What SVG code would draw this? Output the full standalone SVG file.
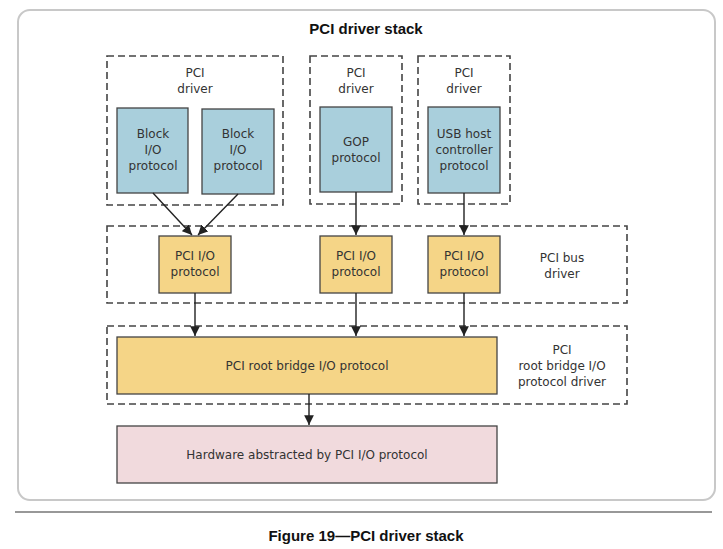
<svg xmlns="http://www.w3.org/2000/svg" width="723" height="549" viewBox="0 0 723 549">
<defs>
<marker id="ah" viewBox="0 0 10 10" refX="10" refY="5" markerWidth="7" markerHeight="7" orient="auto"><path d="M0,0L10,5L0,10z" fill="#222"/></marker>
<style>
text{font-family:"DejaVu Sans","Noto Sans",sans-serif;font-size:12px;fill:#333;text-anchor:middle}
.d{fill:none;stroke:#444;stroke-width:1.6;stroke-dasharray:7,4}
.b{fill:#a9cfdc;stroke:#444;stroke-width:1.3}
.o{fill:#f5d587;stroke:#444;stroke-width:1.3}
.p{fill:#f1dadd;stroke:#444;stroke-width:1.3}
.c line{stroke:#222;stroke-width:1.4;marker-end:url(#ah)}
</style>
</defs>
<rect width="723" height="549" fill="#fff"/>
<rect x="18" y="10" width="697" height="490" rx="12" fill="#fff" stroke="#c8c8c8" stroke-width="2"/>
<text x="366" y="34" style="font-family:'Liberation Sans',sans-serif;font-size:15px;font-weight:bold;fill:#111">PCI driver stack</text>
<g id="drv1"><rect class="d" x="107" y="56" width="176" height="149"/><text x="195" y="77">PCI</text><text x="195" y="93">driver</text></g>
<g id="blk1"><rect class="b" x="117" y="108" width="71" height="85"/><text x="153" y="138">Block</text><text x="153" y="154">I/O</text><text x="153" y="170">protocol</text></g>
<g id="blk2"><rect class="b" x="202" y="109" width="72" height="85"/><text x="238" y="138">Block</text><text x="238" y="154">I/O</text><text x="238" y="170">protocol</text></g>
<g id="drv2"><rect class="d" x="310" y="56" width="92" height="148"/><text x="356" y="77">PCI</text><text x="356" y="93">driver</text></g>
<g id="gop"><rect class="b" x="320" y="107" width="72" height="85"/><text x="356" y="146">GOP</text><text x="356" y="162">protocol</text></g>
<g id="drv3"><rect class="d" x="418" y="56" width="92" height="148"/><text x="464" y="77">PCI</text><text x="464" y="93">driver</text></g>
<g id="usb"><rect class="b" x="428" y="107" width="72" height="86"/><text x="464" y="138">USB host</text><text x="464" y="154">controller</text><text x="464" y="170">protocol</text></g>
<g id="bus"><rect class="d" x="107" y="226" width="520" height="77"/><text x="562" y="262">PCI bus</text><text x="562" y="278">driver</text></g>
<g id="pio1"><rect class="o" x="159" y="236" width="72" height="57"/><text x="195" y="260">PCI I/O</text><text x="195" y="276">protocol</text></g>
<g id="pio2"><rect class="o" x="320" y="236" width="72" height="57"/><text x="356" y="260">PCI I/O</text><text x="356" y="276">protocol</text></g>
<g id="pio3"><rect class="o" x="428" y="236" width="72" height="57"/><text x="464" y="260">PCI I/O</text><text x="464" y="276">protocol</text></g>
<g id="rbd"><rect class="d" x="107" y="326" width="520" height="78"/><text x="562" y="354">PCI</text><text x="562" y="370">root bridge I/O</text><text x="562" y="386">protocol driver</text></g>
<g id="rb"><rect class="o" x="117" y="337" width="380" height="57"/><text x="307" y="370">PCI root bridge I/O  protocol</text></g>
<g id="hw"><rect class="p" x="117" y="426" width="380" height="57"/><text x="307" y="459">Hardware abstracted by PCI I/O protocol</text></g>
<g class="c" id="connectors">
<line x1="153" y1="193" x2="192" y2="235"/>
<line x1="238" y1="194" x2="198" y2="235"/>
<line x1="356" y1="192" x2="356" y2="235"/>
<line x1="464" y1="193" x2="464" y2="235"/>
<line x1="195" y1="293" x2="195" y2="336"/>
<line x1="356" y1="293" x2="356" y2="336"/>
<line x1="464" y1="293" x2="464" y2="336"/>
<line x1="309" y1="394" x2="309" y2="425"/>
</g>
<line x1="15" y1="512" x2="712" y2="512" stroke="#333" stroke-width="1.2"/>
<text x="366" y="541" style="font-family:'Liberation Sans',sans-serif;font-size:15px;font-weight:bold;fill:#111">Figure 19—PCI driver stack</text>
</svg>
